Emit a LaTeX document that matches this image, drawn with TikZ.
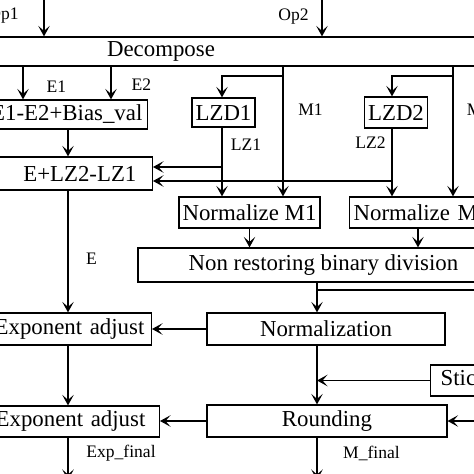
\documentclass[tikz,border=0pt]{standalone}
\usepackage{fontspec}
\setmainfont{Liberation Serif}
\usetikzlibrary{arrows.meta, calc}

\begin{document}
\begin{tikzpicture}[
    x=0.02cm, y=-0.02cm,
    box/.style={
        draw,
        line width=0.7pt,
        inner xsep=2pt,
        inner ysep=0pt,
        font=\fontsize{13}{15}\selectfont
    },
    leftcut/.style={box, anchor=east, text width=4cm, align=right},
    rightcut/.style={box, anchor=west, text width=4cm, align=left},
    tag/.style={font=\fontsize{10}{12}\selectfont, inner sep=0pt},
    wire/.style={line width=0.7pt},
    arrow/.style={wire, -{Stealth[length=0.21cm, width=0.23cm, inset=0.1cm]}}
]

\useasboundingbox (0,0) rectangle (474,474);
\clip (0,0) rectangle (474,474);

% Blocks
\node[box, minimum width=14cm, minimum height=0.58cm] (dec) at (161,51.5) {Decompose};
\node[leftcut, inner xsep=0.1cm, minimum height=0.58cm] (sub) at (148,114.5) {E1-E2+Bias\_val};
\node[leftcut, inner xsep=0.32cm, minimum height=0.66cm] (expsum) at (153,173.5) {E+LZ2-LZ1};
\node[box, minimum width=1.26cm, minimum height=0.58cm] (lzd1) at (223.5,112.5) {LZD1};
\node[box, minimum width=1.24cm, minimum height=0.62cm] (lzd2) at (396,112.5) {LZD2};
\node[box, minimum width=2.78cm, minimum height=0.62cm] (norm1) at (249.5,212.5) {Normalize M1};
\node[rightcut, inner xsep=0.08cm, minimum height=0.62cm] (norm2) at (349,212.5) {Normalize M2};
\node[box, minimum width=7.42cm, minimum height=0.68cm] (div) at (323.5,265) {Non restoring binary division};
\node[box, minimum width=4.76cm, minimum height=0.64cm] (nrm) at (326,329) {Normalization};
\node[leftcut, inner xsep=0.14cm, minimum height=0.64cm] (exp1) at (152,329) {Exponent adjust};
\node[rightcut, inner xsep=0.2cm, minimum height=0.62cm] (sticky) at (430,380.5) {Sticky};
\node[box, minimum width=4.8cm, minimum height=0.64cm] (rnd) at (327,421) {Rounding};
\node[leftcut, inner xsep=0.28cm, minimum height=0.62cm] (exp2) at (160,421.5) {Exponent adjust};

% Wire columns and rows
\coordinate (op1) at (44,0);
\coordinate (op2) at (322,0);
\coordinate (e1) at (23,0);
\coordinate (e2) at (111,0);
\coordinate (m1) at (283,0);
\coordinate (m2) at (453,0);
\coordinate (lz1) at (222,0);
\coordinate (lz2) at (392,0);
\coordinate (m2d) at (418,0);
\coordinate (ex) at (68,0);
\coordinate (mx) at (317,0);
\coordinate (tap) at (0,76);
\coordinate (side) at (0,290);
\coordinate (bot) at (0,480);
\coordinate (rgt) at (480,0);
\path ($(expsum.east)+(0,-6.5)$) coordinate (in1)
      ($(expsum.east)+(0,7.5)$) coordinate (in2);

% Operands
\draw[arrow] (op1) -- (op1 |- dec.north);
\draw[arrow] (op2) -- (op2 |- dec.north);

% Exponent path
\draw[arrow] (e1 |- dec.south) -- (e1 |- sub.north);
\draw[arrow] (e2 |- dec.south) -- (e2 |- sub.north);
\draw[arrow] (ex |- sub.south) -- (ex |- expsum.north);
\draw[arrow] (ex |- expsum.south) -- (ex |- exp1.north);
\draw[arrow] (ex |- exp1.south) -- (ex |- exp2.north);
\draw[arrow] (ex |- exp2.south) -- (ex |- bot);

% Mantissa path
\draw[arrow] (m1 |- dec.south) -- (m1 |- norm1.north);
\draw[arrow] (m1 |- tap) -| (lz1 |- lzd1.north);
\draw[arrow] (lz1 |- lzd1.south) -- (lz1 |- norm1.north);
\draw[arrow] (lz1 |- in1) -- (in1);
\draw[arrow] (m2 |- dec.south) -- (m2 |- norm2.north);
\draw[arrow] (m2 |- tap) -| (lz2 |- lzd2.north);
\draw[arrow] (lz2 |- lzd2.south) -- (lz2 |- norm2.north);
\draw[arrow] (lz2 |- in2) -- (in2);
\draw[arrow] (norm1.south) -- (norm1.south |- div.north);
\draw[arrow] (m2d |- norm2.south) -- (m2d |- div.north);
\draw[arrow] (mx |- div.south) -- (mx |- nrm.north);
\draw[wire] (mx |- side) -- (rgt |- side);
\draw[arrow] (nrm.west) -- (exp1.east);
\draw[arrow] (mx |- nrm.south) -- (mx |- rnd.north);
\draw[arrow] (sticky.west) -- (sticky.west -| mx);
\draw[arrow] (rgt |- rnd.east) -- (rnd.east);
\draw[arrow] (rnd.west) -- (rnd.west -| exp2.east);
\draw[arrow] (mx |- rnd.south) -- (mx |- bot);

% Signal labels
\node[tag] (lop1) at (3.5,16) {Op1};
\node[tag] (lop2) at (293.5,17) {Op2};
\node[tag] (le1) at (56.5,87) {E1};
\node[tag] (le2) at (141.5,85) {E2};
\node[tag] (lm1) at (310.5,110) {M1};
\node[tag] (lm2) at (479,110) {M2};
\node[tag] (llz1) at (246,145) {LZ1};
\node[tag] (llz2) at (370.5,143) {LZ2};
\node[tag] (le) at (91.5,259) {E};
\node[tag] (lexp) at (121,453) {Exp\_final};
\node[tag] (lmf) at (371.5,453) {M\_final};

\end{tikzpicture}
\end{document}
